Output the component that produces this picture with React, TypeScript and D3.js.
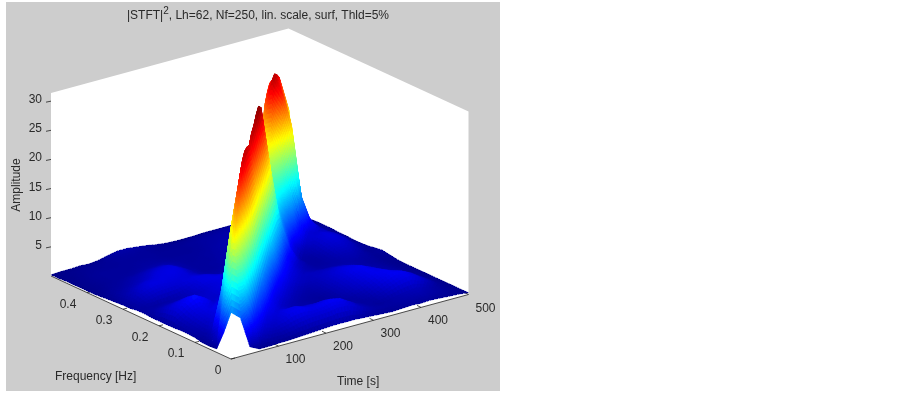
import React, { useMemo } from 'react';
import * as d3 from 'd3';

// grid: one row per frequency, one column per time
const times = d3.range(0, 501, 20);
const freqs = d3.range(0, 26).map(k => k * 0.02);
const timeTicks = [100, 200, 300, 400, 500];
const freqTicks = [0, 0.1, 0.2, 0.3, 0.4];
const ampTicks = [5, 10, 15, 20, 25, 30];
const ampMax = 31.4;

const amplitude: number[][] = [
  [8, 6.6, 1.2, .4, .4, .5, .5, .6, .7, .8, .9, 1, 1, 1, .9, .8, .7, .6, .7, .8, .7, .8, .7, .6, .5, .3],
  [4, 20, 13, 4.5, 1.8, 1.4, 1.4, 1.7, 2.1, 2.4, 2.5, 2.6, 2.9, 2.8, 2.2, 1.5, 1.1, 1, 1, 1.1, 1.2, 1.3, 1.1, .9, .6, .3],
  [.6, 11.7, 22.5, 15, 5.5, 2.6, 2.1, 2.6, 3.4, 3.6, 3.2, 3.4, 3.8, 3.5, 2.5, 1.5, 1, .8, 1, 1.3, 1.6, 1.8, 1.4, 1, .6, .3],
  [.5, 3, 16.7, 25, 16.5, 6.5, 3, 2.6, 3.2, 3.3, 2.8, 2.8, 3, 2.6, 1.9, 1.3, .9, 1, 1.6, 2.3, 2.9, 3.2, 2.6, 1.6, .7, .3],
  [.5, 1.5, 8, 18.5, 27.5, 18, 7, 3.5, 2.6, 2.3, 2.1, 2, 1.9, 1.6, 1.2, .9, 1, 1.4, 2.2, 3, 3.6, 3.5, 2.7, 1.6, .7, .3],
  [.8, 1.2, 2.5, 8, 19.4, 29, 19, 7.8, 3.6, 2.2, 1.6, 1.3, 1.2, 1, .9, 1, 1.4, 2, 2.7, 3.4, 3.5, 3, 2.3, 1.4, .6, .3],
  [.9, 1.4, 2.2, 3, 10, 20, 29.6, 19, 8, 3.6, 2.2, 1.5, 1.1, .9, .8, 1.1, 1.7, 2.3, 3, 3.5, 3.2, 2.5, 1.8, 1.2, .6, .3],
  [.9, 1.6, 2.5, 3, 3.5, 10, 19.6, 29.3, 19, 8.4, 3.8, 2.4, 1.5, 1.1, 1, 1.3, 1.9, 2.6, 3.3, 3.6, 2.9, 2, 1.4, 1, .5, .3],
  [.8, 1.9, 2.9, 3.3, 2.8, 3.2, 9.5, 19.6, 28.6, 19.4, 9, 4.2, 2.6, 1.7, 1.3, 1.5, 2, 2.6, 3.1, 3.1, 2.4, 1.7, 1.2, .9, .5, .3],
  [.8, 2.6, 3.6, 4.5, 3.6, 2.4, 3, 9.5, 19.9, 29.7, 20, 10, 4.6, 2.8, 2, 1.8, 2, 2.3, 2.6, 2.5, 1.9, 1.4, 1.1, .8, .5, .3],
  [.8, 2.4, 3.1, 3.6, 3.2, 2.3, 2.2, 3, 9.8, 20.1, 30, 20.5, 10, 4.6, 2.8, 2, 1.9, 1.9, 1.9, 1.8, 1.5, 1.2, 1, .8, .5, .4],
  [.8, 1.8, 2.2, 2.5, 2.4, 2.2, 2.3, 2.7, 3.4, 10, 20.6, 30.8, 21, 10, 4.5, 2.6, 1.7, 1.4, 1.2, 1.2, 1.2, 1.2, 1.1, .9, .6, .6],
  [.9, 1.2, 1.4, 1.5, 1.5, 1.7, 2.1, 2.6, 3, 3.6, 10, 21, 31.2, 21, 10, 4.2, 2.2, 1.4, 1, 1, 1.1, 1.4, 1.5, 1.1, .7, .8],
  [.9, 1, 1, 1.1, 1.3, 1.7, 2.4, 3, 3.1, 3, 3.4, 9.6, 20.2, 30, 19, 9.5, 4.6, 1.9, 1, .9, 1.2, 1.8, 2, 1.5, .7, .6],
  [.7, 1.3, 1.9, 2.3, 2.4, 2.5, 2.8, 3, 2.9, 2.5, 2.2, 3, 8, 16.5, 25, 14, 8, 3.2, 1.1, 1, 1.4, 2.2, 2.5, 2, 1, .4],
  [.7, 1.5, 2.4, 3, 3, 2.9, 2.8, 2.6, 2.3, 1.9, 1.4, 1.6, 2.4, 5.5, 11.5, 18, 12, 7, 3, 1.4, 1.7, 2.5, 2.9, 2.3, 1.1, .3],
  [.6, 1.3, 2, 2.6, 2.8, 3, 3.1, 2.8, 2, 1.4, 1.1, 1.1, 1.5, 2.3, 5, 10.5, 16, 13, 8, 4.5, 2.4, 2.5, 2.8, 2.3, 1.2, .3],
  [.5, 1, 1.4, 1.8, 2.2, 2.8, 3, 3, 2.2, 1.3, .9, .9, 1.1, 1.6, 2.3, 5, 14, 21, 17, 11, 5, 2.6, 2.4, 2, 1.1, .4],
  [.4, .8, 1, 1.3, 1.7, 2.2, 2.6, 2.7, 2, 1.2, .9, .9, 1, 1.3, 1.7, 2.2, 7, 20, 29.5, 26.5, 21, 8.5, 3.8, 2, 1, .4],
  [.3, .6, .8, 1, 1.3, 1.6, 1.9, 2, 1.7, 1.2, .9, .9, .9, 1.1, 1.4, 1.8, 2.6, 12, 25, 29.7, 25, 16, 5.2, 2.4, 1, .5],
  [.3, .5, .7, .8, .9, 1, 1.2, 1.3, 1.3, 1.1, .9, .8, .9, 1, 1.2, 1.5, 1.9, 2.8, 9, 26, 28.5, 22, 9, 2.7, 1, .5],
  [.3, .5, .7, .8, .8, .8, .9, 1, 1, .9, .8, .8, .8, .9, 1.1, 1.3, 1.6, 2, 2.8, 6, 26.5, 27, 21, 5, 1, .5],
  [.3, .5, .7, .8, .8, .8, .8, .9, .9, .8, .7, .7, .7, .8, 1, 1.1, 1.3, 1.5, 1.8, 2.4, 3.5, 26, 23, 8, 1, .4],
  [.3, .4, .6, .7, .7, .7, .8, .8, .8, .8, .7, .7, .7, .8, .9, 1, 1.1, 1.2, 1.3, 1.5, 1.8, 2.5, 13, 12, 1.1, .4],
  [.2, .4, .5, .6, .6, .7, .8, .9, .9, .8, .7, .6, .6, .6, .7, .7, .8, .9, .9, 1, 1.1, 1.3, 1.6, 4, 2.2, .4],
  [.2, .3, .3, .4, .3, .5, .9, 1.2, 1.2, 1, .8, .5, .3, .2, .2, .2, .3, .3, .3, .3, .4, .4, .4, .4, .5, .5],
];

// MATLAB jet
const jet = d3.scaleLinear<string>()
  .domain([0, 0.125, 0.375, 0.625, 0.875, 1].map(v => v * ampMax))
  .range(['#000080', '#0000ff', '#00ffff', '#ffff00', '#ff0000', '#800000'])
  .interpolate(d3.interpolateRgb)
  .clamp(true);

// 3 axes of the box as seen on screen, all from the front floor corner
const timeX = d3.scaleLinear().domain([0, 500]).range([231, 468.5]);
const timeY = d3.scaleLinear().domain([0, 500]).range([359, 294.5]);
const freqX = d3.scaleLinear().domain([0, 0.5]).range([0, -180]);
const freqY = d3.scaleLinear().domain([0, 0.5]).range([0, -83]);
const ampY = d3.scaleLinear().domain([0, ampMax]).range([0, -183]);

const px = (t: number, f: number) => timeX(t) + freqX(f);
const py = (t: number, f: number, a = 0) => timeY(t) + freqY(f) + ampY(a);

const textColor = '#2a2a2a';
const font = '"Liberation Sans", Arial, sans-serif';

function buildPatches() {
  const patches: { d: string; c: string }[] = [];
  const pathOf = d3.line();
  // back to front, so near cells paint over far ones
  for (let i = freqs.length - 2; i >= 0; i--) {
    for (let j = times.length - 2; j >= 0; j--) {
      const a00 = amplitude[i][j];
      const a01 = amplitude[i][j + 1];
      const a10 = amplitude[i + 1][j];
      const a11 = amplitude[i + 1][j + 1];
      const span = Math.max(a00, a01, a10, a11) - Math.min(a00, a01, a10, a11);
      // cell is two triangles split along its main diagonal, colour shaded across them
      const n = Math.min(12, Math.max(3, Math.ceil(span / 0.7)));
      const fx = d3.scaleLinear().domain([0, n]).range([freqs[i], freqs[i + 1]]);
      const tx = d3.scaleLinear().domain([0, n]).range([times[j], times[j + 1]]);
      const val = (u: number, v: number) => {
        const du = u / n;
        const dv = v / n;
        return dv >= du
          ? a00 * (1 - dv) + a01 * (dv - du) + a11 * du
          : a00 * (1 - du) + a10 * (du - dv) + a11 * dv;
      };
      const pt = (u: number, v: number): [number, number] => [px(tx(v), fx(u)), py(tx(v), fx(u), val(u, v))];
      for (let u = n - 1; u >= 0; u--) {
        for (let v = n - 1; v >= 0; v--) {
          const upper = (val(u, v) + val(u, v + 1) + val(u + 1, v + 1)) / 3;
          const lower = (val(u, v) + val(u + 1, v) + val(u + 1, v + 1)) / 3;
          patches.push({ d: pathOf([pt(u, v), pt(u, v + 1), pt(u + 1, v + 1)]) + 'Z', c: jet(upper) });
          patches.push({ d: pathOf([pt(u, v), pt(u + 1, v), pt(u + 1, v + 1)]) + 'Z', c: jet(lower) });
        }
      }
    }
  }
  return patches;
}

export default function App() {
  const patches = useMemo(buildPatches, []);

  const t0 = times[0];
  const tEnd = times[times.length - 1];
  const fEnd = freqs[freqs.length - 1];
  const wall = [
    [px(t0, fEnd), py(t0, fEnd, ampMax)],
    [px(tEnd, fEnd), py(tEnd, fEnd, ampMax)],
    [px(tEnd, 0), py(tEnd, 0, ampMax)],
    [px(tEnd, 0), py(tEnd, 0)],
    [px(t0, 0), py(t0, 0)],
    [px(t0, fEnd), py(t0, fEnd)],
  ].map(p => p.join(',')).join(' ');

  return (
    <svg
      width={903}
      height={393}
      style={{ position: 'absolute', left: 0, top: 0, background: '#fff' }}
      fontFamily={font}
      fontSize={12}
      fill={textColor}
    >
      <defs>
        <filter id="soft" x="-5%" y="-5%" width="110%" height="110%">
          <feGaussianBlur stdDeviation="0.45" />
        </filter>
        <filter id="surf" filterUnits="userSpaceOnUse" x="0" y="0" width="520" height="393" colorInterpolationFilters="sRGB">
          <feGaussianBlur stdDeviation="0.6" />
        </filter>
      </defs>
      <rect x={6} y={2} width={494} height={389} fill="#cdcdcd" />
      <polygon points={wall} fill="#fff" />

      <g stroke="#222" strokeWidth={0.8} fill="none">
        <line x1={px(t0, 0)} y1={py(t0, 0)} x2={px(t0, fEnd)} y2={py(t0, fEnd)} />
        <line x1={px(t0, 0)} y1={py(t0, 0)} x2={px(tEnd, 0)} y2={py(tEnd, 0)} />
        {timeTicks.map(t => (
          <line key={t} x1={px(t, 0)} y1={py(t, 0)} x2={px(t, 0) - 4} y2={py(t, 0) - 2} />
        ))}
        {freqTicks.map(f => (
          <line key={f} x1={px(t0, f)} y1={py(t0, f)} x2={px(t0, f) + 4} y2={py(t0, f) - 1} />
        ))}
        {ampTicks.map(a => (
          <line key={a} x1={px(t0, fEnd) - 5} y1={py(t0, fEnd, a) + 1} x2={px(t0, fEnd)} y2={py(t0, fEnd, a)} />
        ))}
      </g>

      {/* no antialiasing per patch, it speckles the dark blue; the blur softens the outline instead */}
      <g filter="url(#surf)" shapeRendering="crispEdges">
        {patches.map((p, k) => (
          <path key={k} d={p.d} fill={p.c} stroke={p.c} strokeWidth={0.4} strokeLinejoin="round" />
        ))}
      </g>

      <g filter="url(#soft)">
        <text x={258} y={19} textAnchor="middle">
          |STFT|<tspan dy={-5} fontSize={10}>2</tspan><tspan dy={5}>, Lh=62, Nf=250, lin. scale, surf, Thld=5%</tspan>
        </text>

        {ampTicks.map(a => (
          <text key={a} x={42} y={py(t0, fEnd, a) + 2} textAnchor="end">{a}</text>
        ))}
        {freqTicks.map(f => (
          <text key={f} x={px(t0, f) - 19 + (f === 0 ? 6 : 0)} y={py(t0, f) + 15} textAnchor="middle">{f}</text>
        ))}
        {timeTicks.map(t => (
          <text key={t} x={px(t, 0) + 17} y={py(t, 0) + 17} textAnchor="middle">{t}</text>
        ))}

        <text transform="translate(20,185) rotate(-90)" textAnchor="middle">Amplitude</text>
        <text x={55} y={380}>Frequency [Hz]</text>
        <text x={337} y={385}>Time [s]</text>
      </g>
    </svg>
  );
}
